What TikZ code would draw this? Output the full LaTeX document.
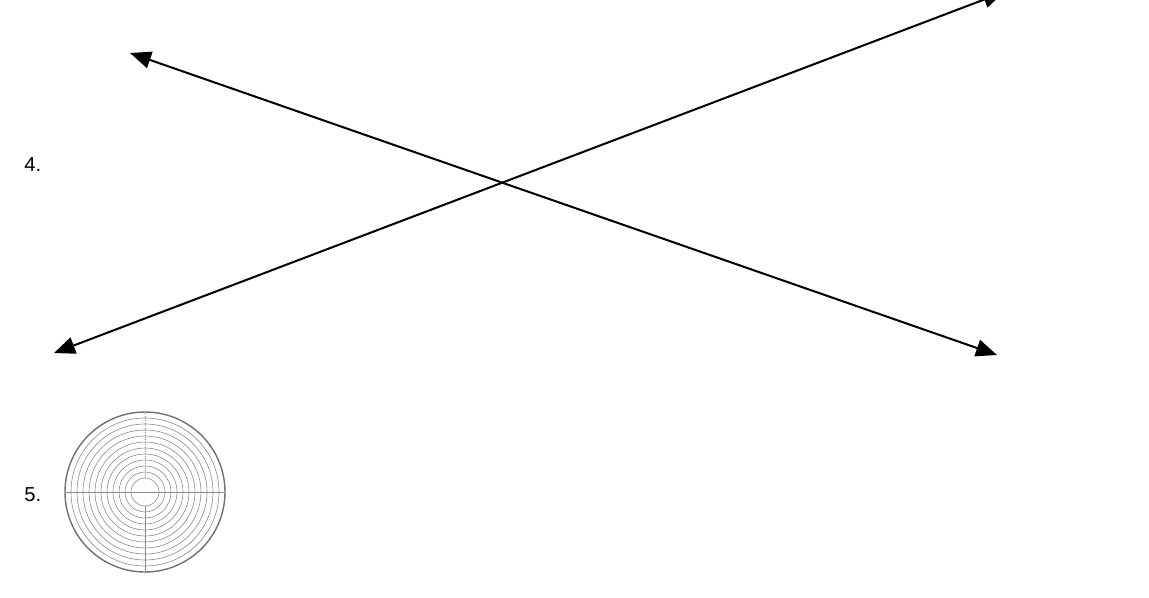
\documentclass[tikz,border=0pt]{standalone}
\usepackage{fontspec}
\setmainfont{Liberation Sans}
\usetikzlibrary{arrows.meta}
\colorlet{ring}{black!45}
\tikzset{
  % node options
  number/.style={anchor=west,inner sep=0pt,font=\fontsize{11.5}{13}\selectfont},
  % path options
  line/.style={{Triangle[length=4.2mm,width=3.4mm]}-{Triangle[length=4.2mm,width=3.4mm]},line width=1.15pt},
  grid ring/.style={draw=ring,line width=0.35pt},
  grid edge/.style={draw=ring!80!black,line width=0.8pt},
}
\begin{document}
\begin{tikzpicture}[x=0.02cm,y=-0.02cm]
    \useasboundingbox (0,0) rectangle (1149,598);
    \node[number] (four) at (24,165) {4.};
    \node[number] (five) at (24,495) {5.};
    % the two lines
    \coordinate (lineA1) at (130,53);
    \coordinate (lineA2) at (997,355);
    \coordinate (lineB1) at (54,353);
    \coordinate (lineB2) at (1004,-8);
    \draw[line] (lineA1) -- (lineA2);
    \draw[line] (lineB1) -- (lineB2);
    % the target
    \coordinate (target) at (145,492);
    \foreach \r in {14,20,...,74}
      \draw[grid ring] (target) circle (\r);
    \draw[grid edge] (target) circle (80);
    \draw[grid ring] (target) ++(-80,0) -- ++(160,0);
    \draw[grid ring] (target) ++(0,14) -- ++(0,66);
    \draw[grid ring,densely dotted] (target) ++(0,-14) -- ++(0,-66);
\end{tikzpicture}
\end{document}
